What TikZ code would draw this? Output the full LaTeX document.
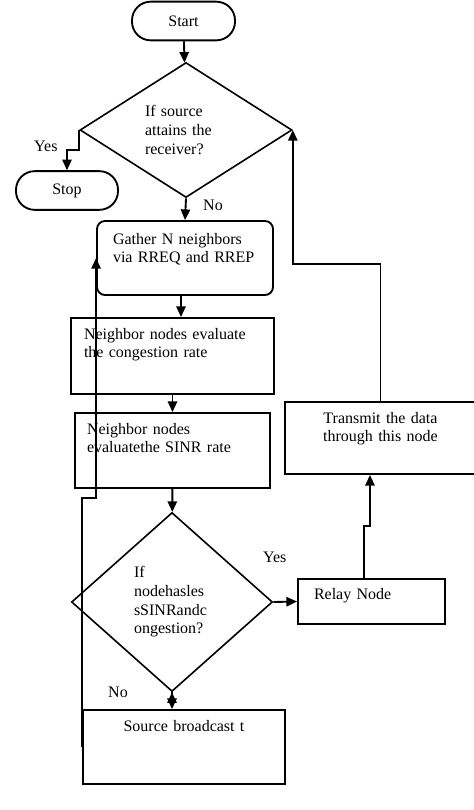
\documentclass[tikz,border=0pt]{standalone}
\usepackage{fontspec}
\setmainfont{Liberation Serif}
\usetikzlibrary{shapes.geometric,arrows.meta}
\tikzset{term node/.style={draw, rectangle, rounded corners=14pt, line width=1.4pt, minimum width=#1, minimum height=29pt, inner sep=0pt},
  proc node/.style={draw, rectangle, line width=1.4pt, align=left, inner ysep=0pt},
  dec node/.style={draw, diamond, line width=1.2pt, align=left, inner sep=0pt},
  flow/.style={-{Triangle[length=8pt,width=7pt]}, line width=1.4pt},}

\begin{document}
\begin{tikzpicture}[x=0.75pt, y=-0.75pt, every node/.style={font=\fontsize{12}{14}\selectfont}]
        \useasboundingbox (0,0) rectangle (474,810);
        % Nodes
        \node[term node=77.25pt] (start) at (183.5,21) {Start};
        \node[dec node, minimum width=159pt, minimum height=101.25pt, aspect=1.57, text width=61.5pt] (reach) at (186,130) {If source\\attains the\\receiver?};
        \node[term node=76.5pt] (stop) at (67,190.5) {Stop};
        \node[proc node, rounded corners=6pt, text width=108pt, inner xsep=12pt, text height=17.25pt, text depth=38.25pt] (gather) at (185,258) {Gather N neighbors\\via RREQ and RREP};
        \node[proc node, text width=132.75pt, inner xsep=9.75pt, text height=15.75pt, text depth=41.25pt] (cong) at (172.5,356) {Neighbor nodes evaluate\\the congestion rate};
        \node[proc node, text width=128.25pt, inner xsep=9pt, text height=15.75pt, text depth=40.5pt] (sinr) at (172.5,450.5) {Neighbor nodes\\evaluatethe SINR rate};
        \node[dec node, minimum width=150.75pt, minimum height=134.25pt, aspect=1.12, text width=57pt] (less) at (172,602) {If\\nodehasles\\sSINRandc\\ongestion?};
        \node[proc node, text width=86.25pt, inner xsep=12pt, text height=15pt, text depth=18.75pt] (relay) at (371.5,601.5) {Relay Node};
        \node[proc node, align=center, text width=128.25pt, inner xsep=7.5pt, text height=15.75pt, text depth=38.25pt] (send) at (380.5,438) {Transmit the data\\through this node};
        \node[proc node, align=center, text width=136.5pt, inner xsep=7.5pt, text height=15.75pt, text depth=39.75pt] (bcast) at (184,747) {Source broadcast t};
        % Paths
        \path[draw, flow]
        (start) edge (reach)
        (reach.south) edge node[pos=0, xshift=20.25pt, yshift=-5.25pt] {No} (gather.north)
        (cong) edge (sinr)
        (sinr) edge (less)
        (less.east) edge node[pos=0, xshift=1.1pt, yshift=33.75pt] {Yes} (relay.west)
        (less.south) edge node[pos=0, xshift=-40.5pt] {No} (less.south |- bcast.north);
        \draw[flow] (reach.west) node[xshift=-25pt, yshift=-12pt] {Yes} -- ++(0,20) -| (stop.north);
        \draw[flow] ([xshift=-3pt]gather.south) -- ([xshift=-3pt]gather.south |- cong.north);
        % Loops
        \draw[flow] ([xshift=-5.6pt]relay.north) -- ++(0,-52) -| ([xshift=-7.9pt]send.south);
        \draw[flow] (send.north) -- ++(0,-137) -| (reach.east);
        \draw[flow] (bcast.west) -- ++(0,-249) -| (gather.west);
    \end{tikzpicture}
\end{document}
